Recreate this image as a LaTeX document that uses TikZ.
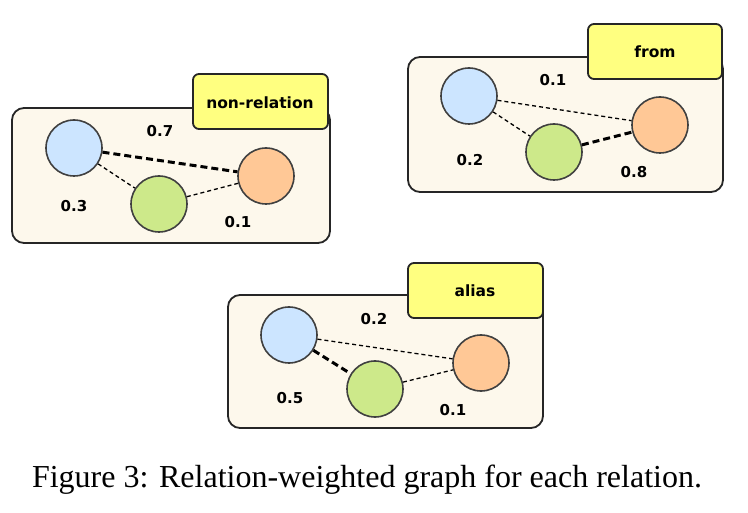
\documentclass[tikz,border=0pt]{standalone}
\usepackage{fontspec}
\setmainfont{Liberation Serif}
\newfontfamily\lblfont{DejaVu Sans}
\begin{document}
\begin{tikzpicture}[x=1pt,y=-1pt,
  panel/.style={draw=black!85,line width=1.8pt,rounded corners=12pt,fill=cream},
  tag/.style={draw=black!85,line width=1.8pt,rounded corners=6pt,fill=tagy},
  nd/.style={circle,draw=black!75,line width=1.6pt,minimum size=56pt,inner sep=0pt},
  bl/.style={nd,fill=cb},gr/.style={nd,fill=cg},orr/.style={nd,fill=co},
  thin/.style={line width=1.3pt,dash pattern=on 4pt off 3pt},
  thick/.style={line width=3pt,dash pattern=on 7pt off 4pt},
  w/.style={font=\lblfont\bfseries\fontsize{15}{18}\selectfont},
  tt/.style={font=\lblfont\bfseries\fontsize{15.5}{18}\selectfont}]
\definecolor{cream}{HTML}{FDF8EC}
\definecolor{tagy}{HTML}{FFFF80}
\definecolor{cb}{HTML}{CCE5FF}
\definecolor{cg}{HTML}{CDE98A}
\definecolor{co}{HTML}{FFC896}
\useasboundingbox[fill=white] (0,0) rectangle (748,513);
% panel 1
\draw[panel] (12,108) rectangle (330,243);
\draw[tag] (193,74) rectangle (328,129);
\node[tt] (t1) at (260,103) {non-relation};
\node[bl] (b1) at (74,148) {};
\node[gr] (g1) at (159,204) {};
\node[orr] (o1) at (266,176) {};
\draw[thick] (b1) -- (o1);
\draw[thin] (b1) -- (g1);
\draw[thin] (g1) -- (o1);
\node[w] (l11) at (160,131) {0.7};
\node[w] (l12) at (74,206) {0.3};
\node[w] (l13) at (238,222) {0.1};
% panel 2
\draw[panel] (408,57) rectangle (723,192);
\draw[tag] (588,24) rectangle (722,79);
\node[tt] (t2) at (655,52) {from};
\node[bl] (b2) at (469,96) {};
\node[gr] (g2) at (554,152) {};
\node[orr] (o2) at (660,125) {};
\draw[thin] (b2) -- (o2);
\draw[thin] (b2) -- (g2);
\draw[thick] (g2) -- (o2);
\node[w] (l21) at (553,80) {0.1};
\node[w] (l22) at (470,160) {0.2};
\node[w] (l23) at (634,172) {0.8};
% panel 3
\draw[panel] (228,295) rectangle (543,428);
\draw[tag] (408,263) rectangle (543,318);
\node[tt] (t3) at (475,291) {alias};
\node[bl] (b3) at (289,335) {};
\node[gr] (g3) at (375,389) {};
\node[orr] (o3) at (481,363) {};
\draw[thin] (b3) -- (o3);
\draw[thick] (b3) -- (g3);
\draw[thin] (g3) -- (o3);
\node[w] (l31) at (374,319) {0.2};
\node[w] (l32) at (290,398) {0.5};
\node[w] (l33) at (453,410) {0.1};
\node[font=\fontsize{32}{36}\selectfont] (cap) at (367,480) {Figure 3: Relation-weighted graph for each relation.};
\end{tikzpicture}
\end{document}
